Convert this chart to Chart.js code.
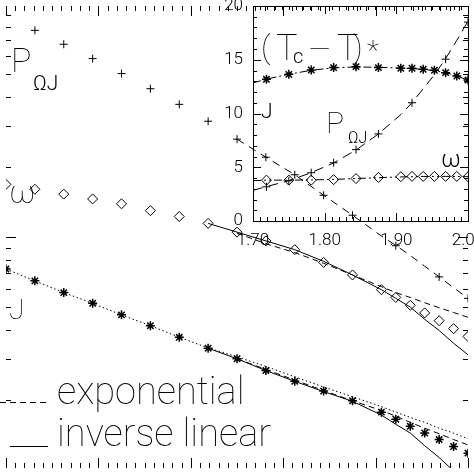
<!DOCTYPE html>
<html>
<head>
<meta charset="utf-8">
<script src="https://cdn.jsdelivr.net/npm/chart.js@4.4.0/dist/chart.umd.min.js"></script>
<style>
html, body { margin: 0; padding: 0; background: #fff; }
#wrap { position: relative; width: 474px; height: 474px; overflow: hidden; }
#main { position: absolute; left: 0; top: 0; }
#inset { position: absolute; left: 200px; top: 0; }
</style>
</head>
<body>
<div id="wrap">
  <canvas id="main" width="474" height="474"></canvas>
  <canvas id="inset" width="274" height="260"></canvas>
</div>
<script>
// main panel: x grid shared by all series
const xMain = [1.5, 1.53125, 1.5625, 1.59375, 1.625, 1.65625, 1.6875, 1.71875, 1.75, 1.78125,
               1.8125, 1.84375, 1.875, 1.90625, 1.921875, 1.9375, 1.953125, 1.96875, 1.984375, 2.0];

const pOmegaJ    = [null, 7.71, 6.72, 5.83, 5.03, 4.33, 3.71, 3.14, 2.63, 2.20,
                    1.85, 1.51, 1.24, null, 0.917, null, null, 0.674, null, 0.545];
const pOmegaJExp = [null, null, null, null, null, null, null, null, 2.63, 2.20,
                    1.85, 1.51, 1.24, 1.01, 0.92, 0.833, 0.749, 0.674, 0.606, 0.545];

const omega    = [1.682, 1.603, 1.528, 1.456, 1.388, 1.297, 1.224, 1.144, 1.049, 0.962,
                  0.882, 0.778, 0.687, 0.594, 0.550, 0.509, 0.472, 0.437, 0.404, 0.374];
const omegaExp = [null, null, null, null, null, null, null, null, 1.039, 0.935,
                  0.857, 0.771, 0.687, 0.612, 0.577, 0.550, 0.522, 0.497, 0.474, 0.452];
const omegaInv = [null, null, null, null, null, null, null, 1.144, 1.049, 0.962,
                  0.882, 0.786, 0.687, 0.594, 0.545, 0.500, 0.443, 0.397, 0.350, 0.312];

const jVals = [0.728, 0.648, 0.577, 0.519, 0.463, 0.416, 0.371, 0.333, 0.300, 0.267,
               0.240, 0.218, 0.198, 0.177, 0.165, 0.154, 0.144, 0.135, 0.126, 0.118];
const jDot  = [0.728, 0.648, 0.577, 0.519, 0.463, 0.416, 0.371, 0.334, 0.306, 0.278,
               0.251, 0.227, 0.206, 0.187, 0.177, 0.168, 0.160, 0.151, 0.144, 0.136];
const jExp  = [null, null, null, null, null, null, null, null, 0.300, 0.270,
               0.243, 0.219, 0.198, 0.180, 0.170, 0.160, 0.151, 0.143, 0.135, 0.128];
const jInv  = [null, null, null, null, null, null, null, 0.333, 0.300, 0.267,
               0.240, 0.217, 0.197, 0.172, 0.157, 0.144, 0.127, 0.113, 0.099, 0.087];

// inset panel
const xInset = [1.7, 1.71875, 1.75, 1.78125, 1.8125, 1.84375, 1.875, 1.90625,
                1.921875, 1.9375, 1.953125, 1.96875, 1.984375, 2.0];
const tcStar    = [null, 13.18, 13.64, 14.05, 14.27, 14.36, 14.27, 14.21, 14.21, 14.11, 14.02, 13.80, 13.49, 13.11];
const tcStarFit = [12.85, 13.2, 13.65, 14.02, 14.25, 14.33, 14.3, 14.22, 14.18, 14.1, 13.98, 13.8, 13.5, 13.1];
const pInset    = [null, 3.18, 3.74, 4.49, 5.42, 6.64, 8.1, null, 11.0, null, null, 15.05, null, 18.5];
const pInsetFit = [2.85, 3.2, 3.75, 4.5, 5.4, 6.6, 8.1, 9.9, 11.0, 12.3, 13.6, 15.1, 16.8, 18.6];
const wInset    = [null, 3.8, 3.8, 3.8, 3.85, 3.95, 4.05, 4.12, 4.15, 4.15, 4.15, 4.15, 4.15, 4.12];
const wInsetFit = [3.75, 3.8, 3.8, 3.82, 3.87, 3.95, 4.03, 4.1, 4.12, 4.14, 4.15, 4.15, 4.14, 4.12];

const insetXTicks = [1.7, 1.8, 1.9, 2.0];
const insetXLabels = ["1.70", "1.80", "1.90", "2.00"];
const insetYTicks = [0, 5, 10, 15, 20];
const insetYLabels = ["0", "5", "10", "15", "20"];

const FONT = '"Roboto", "Liberation Sans", sans-serif';

function pts(xs, ys) {
  return xs.map((x, i) => ({ x: x, y: ys[i] })).filter(p => p.y != null);
}

// big labels look like thin vector font, so go lighter for them
function txt(ctx, s, x, y, size, align, base) {
  const w = size >= 28 ? 100 : 300;
  ctx.font = w + ' ' + size + 'px ' + FONT;
  ctx.textAlign = align || 'left';
  ctx.textBaseline = base || 'alphabetic';
  ctx.fillStyle = '#000';
  ctx.fillText(s, x, y);
}

function lineSet(xs, ys, dash) {
  return { data: pts(xs, ys), showLine: true, pointRadius: 0, borderColor: '#000',
           borderWidth: 1, borderDash: dash, tension: 0 };
}
function markSet(xs, ys, style, r, bw) {
  return { data: pts(xs, ys), showLine: false, pointStyle: style, pointRadius: r,
           borderColor: '#000', backgroundColor: 'rgba(0,0,0,0)', pointBorderWidth: bw || 1 };
}

// IDL style inward ticks, labels and legend for the big panel
const mainDeco = {
  id: 'mainDeco',
  afterDraw(chart) {
    const { ctx, chartArea: a, scales: { x, y } } = chart;
    ctx.save();
    ctx.strokeStyle = '#000';
    ctx.lineWidth = 1;
    ctx.beginPath();
    for (let i = 0; i <= 50; i++) {
      const px = Math.round(x.getPixelForValue(1.5 + i * 0.01)) + 0.5;
      const len = i % 10 === 0 ? 10 : 5;
      ctx.moveTo(px, a.top); ctx.lineTo(px, a.top + len);
      ctx.moveTo(px, a.bottom); ctx.lineTo(px, a.bottom - len);
    }
    [0.1, 1, 10].forEach(dec => {
      for (let k = 1; k <= 9; k++) {
        const v = dec * k;
        if (v < y.min || v > y.max) continue;
        const py = Math.round(y.getPixelForValue(v)) + 0.5;
        const len = k === 1 ? 10 : 5;
        ctx.moveTo(a.left, py); ctx.lineTo(a.left + len, py);
        ctx.moveTo(a.right, py); ctx.lineTo(a.right - len, py);
      }
    });
    ctx.stroke();

    txt(ctx, 'P', 11, 72, 34);
    txt(ctx, 'ΩJ', 33, 90, 21);
    txt(ctx, 'ω', 9, 203, 32);
    txt(ctx, 'J', 9, 319, 28);

    // legend
    ctx.beginPath();
    ctx.setLineDash([6, 4]);
    ctx.moveTo(0, 402.5); ctx.lineTo(48, 402.5);
    ctx.stroke();
    ctx.setLineDash([]);
    ctx.beginPath();
    ctx.moveTo(10, 446.5); ctx.lineTo(48, 446.5);
    ctx.stroke();
    txt(ctx, 'exponential', 57, 404, 38);
    txt(ctx, 'inverse linear', 57, 446, 38);
    ctx.restore();
  }
};

const insetDeco = {
  id: 'insetDeco',
  afterDraw(chart) {
    const { ctx, chartArea: a, scales: { x, y } } = chart;
    ctx.save();
    ctx.strokeStyle = '#000';
    ctx.lineWidth = 1;
    ctx.strokeRect(a.left + 0.5, a.top + 0.5, a.right - a.left, a.bottom - a.top);
    ctx.beginPath();
    for (let i = 0; i <= 30; i++) {
      const px = Math.round(x.getPixelForValue(1.7 + i * 0.01)) + 0.5;
      const len = i % 10 === 0 ? 8 : 4;
      ctx.moveTo(px, a.top); ctx.lineTo(px, a.top + len);
      ctx.moveTo(px, a.bottom); ctx.lineTo(px, a.bottom - len);
    }
    for (let v = 0; v <= 20; v++) {
      const py = Math.round(y.getPixelForValue(v)) + 0.5;
      const len = v % 5 === 0 ? 8 : 4;
      ctx.moveTo(a.left, py); ctx.lineTo(a.left + len, py);
      ctx.moveTo(a.right, py); ctx.lineTo(a.right - len, py);
    }
    ctx.stroke();

    insetXTicks.forEach((v, i) => txt(ctx, insetXLabels[i], x.getPixelForValue(v), a.bottom + 11, 17, 'center', 'top'));
    insetYTicks.forEach((v, i) => txt(ctx, insetYLabels[i], a.left - 10, y.getPixelForValue(v), 17, 'right', 'middle'));

    txt(ctx, '(', 61, 58, 32);
    txt(ctx, 'T', 76, 60, 36);
    txt(ctx, 'c', 93, 63, 20);
    txt(ctx, '—', 109, 59, 28);
    txt(ctx, 'T', 137, 60, 36);
    txt(ctx, ')', 153, 58, 32);
    txt(ctx, '*', 167, 60, 28);

    txt(ctx, 'J', 61, 118, 21);
    txt(ctx, 'P', 126, 133, 30);
    txt(ctx, 'ΩJ', 148, 143, 16);
    txt(ctx, 'ω', 241, 167, 24);
    ctx.restore();
  }
};

new Chart(document.getElementById('main'), {
  type: 'scatter',
  data: {
    datasets: [
      lineSet(xMain, jDot, [1.5, 2.5]),
      lineSet(xMain, jExp, [6, 4]),
      lineSet(xMain, jInv, []),
      markSet(xMain, jVals, 'star', 4.5, 1.5),
      lineSet(xMain, omegaExp, [6, 4]),
      lineSet(xMain, omegaInv, []),
      markSet(xMain, omega, 'rectRot', 5, 1),
      lineSet(xMain, pOmegaJExp, [8, 6]),
      markSet(xMain, pOmegaJ, 'cross', 4, 1)
    ]
  },
  options: {
    responsive: false,
    animation: false,
    devicePixelRatio: 1,
    layout: { padding: 0 },
    plugins: { legend: { display: false }, tooltip: { enabled: false } },
    scales: {
      x: { type: 'linear', min: 1.5, max: 2.0, display: false },
      y: { type: 'logarithmic', min: 0.1019, max: 9.808, display: false }
    }
  },
  plugins: [mainDeco]
});

new Chart(document.getElementById('inset'), {
  type: 'scatter',
  data: {
    datasets: [
      lineSet(xInset, tcStarFit, [8, 3, 2, 3]),
      markSet(xInset, tcStar, 'star', 4.5, 1.5),
      lineSet(xInset, pInsetFit, [10, 6]),
      markSet(xInset, pInset, 'cross', 4, 1),
      lineSet(xInset, wInsetFit, [8, 3, 2, 3, 2, 3]),
      markSet(xInset, wInset, 'rectRot', 5, 1)
    ]
  },
  options: {
    responsive: false,
    animation: false,
    devicePixelRatio: 1,
    layout: { padding: { left: 53, top: 6, right: 6, bottom: 39 } },
    plugins: { legend: { display: false }, tooltip: { enabled: false } },
    scales: {
      x: { type: 'linear', min: 1.7, max: 2.0, display: false },
      y: { type: 'linear', min: 0, max: 20, display: false }
    }
  },
  plugins: [insetDeco]
});
</script>
</body>
</html>
